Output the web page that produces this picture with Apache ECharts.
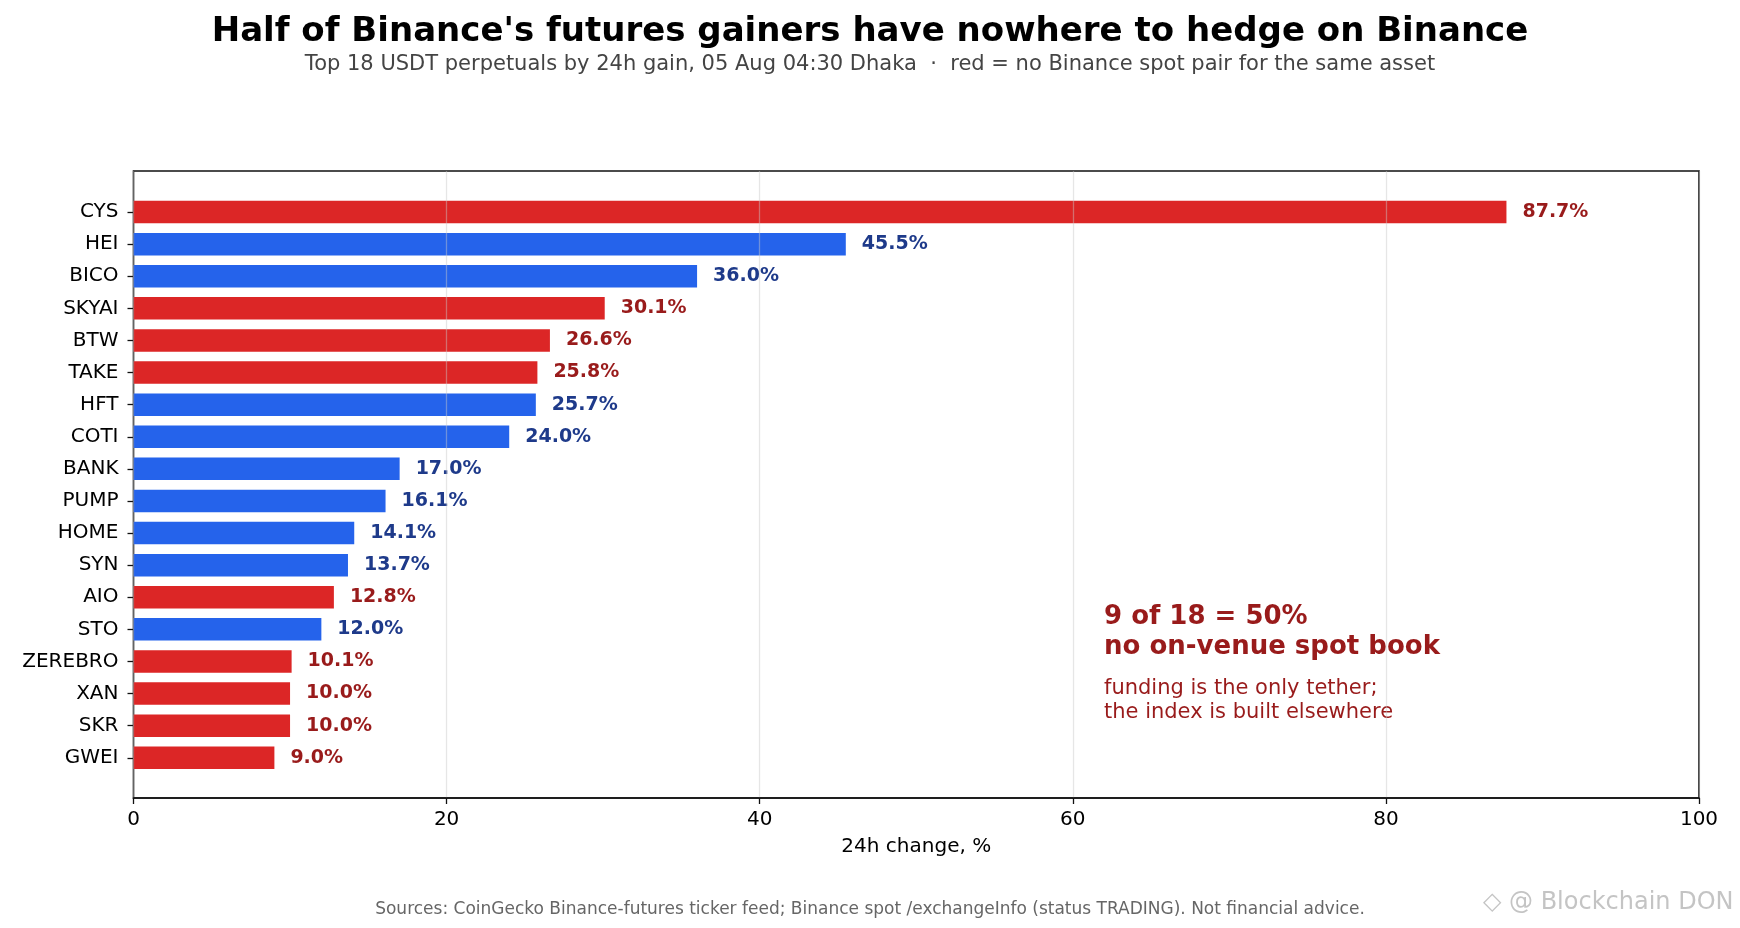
<!DOCTYPE html>
<html>
<head>
<meta charset="utf-8">
<title>Binance futures gainers</title>
<script src="https://cdn.jsdelivr.net/npm/echarts@6/dist/echarts.min.js"></script>
<style>
  html, body { margin: 0; padding: 0; background: #ffffff; }
  #main { width: 1740px; height: 928px; }
</style>
</head>
<body>
<div id="main"></div>
<script>
// top 18 USDT perpetuals
var symbols = ["CYS", "HEI", "BICO", "SKYAI", "BTW", "TAKE", "HFT", "COTI", "BANK",
               "PUMP", "HOME", "SYN", "AIO", "STO", "ZEREBRO", "XAN", "SKR", "GWEI"];
var gains = [87.7, 45.5, 36.0, 30.1, 26.6, 25.8, 25.7, 24.0, 17.0,
             16.1, 14.1, 13.7, 12.8, 12.0, 10.1, 10.0, 10.0, 9.0];
// true = Binance also lists a spot pair
var hasSpot = [false, true, true, false, false, false, true, true, true,
               true, true, true, false, true, false, false, false, false];
var xTicks = [0, 20, 40, 60, 80, 100];

var font = "'DejaVu Sans', 'Noto Sans', sans-serif";
var RED = "#dc2626", BLUE = "#2563eb";
var RED_TXT = "#991b1b", BLUE_TXT = "#1e3a8a";

var barData = gains.map(function (v, i) {
  return {
    value: v,
    itemStyle: { color: hasSpot[i] ? BLUE : RED },
    label: { color: hasSpot[i] ? BLUE_TXT : RED_TXT }
  };
});

var noSpot = hasSpot.filter(function (s) { return !s; }).length;
var pct = Math.round(noSpot / symbols.length * 100);

var chart = echarts.init(document.getElementById("main"));
chart.setOption({
  backgroundColor: "#ffffff",
  animation: false,
  title: [
    {
      text: "Half of Binance's futures gainers have nowhere to hedge on Binance",
      left: "center", top: 10,
      textStyle: { fontFamily: font, fontSize: 34, fontWeight: "bold", color: "#000" }
    },
    {
      text: "Top 18 USDT perpetuals by 24h gain, 05 Aug 04:30 Dhaka  \u00b7  red = no Binance spot pair for the same asset",
      left: "center", top: 49,
      textStyle: { fontFamily: font, fontSize: 21, fontWeight: "normal", color: "#444" }
    },
    {
      text: "Sources: CoinGecko Binance-futures ticker feed; Binance spot /exchangeInfo (status TRADING). Not financial advice.",
      left: "center", top: 896,
      textStyle: { fontFamily: font, fontSize: 17, fontWeight: "normal", color: "#666" }
    }
  ],
  grid: [
    { left: 133.5, right: 41, top: 171, bottom: 130, show: true,
      borderColor: "#111", borderWidth: 1.6, backgroundColor: "transparent" },
    { left: 133.5, right: 41, top: 196, bottom: 154.2 }
  ],
  xAxis: [
    {
      gridIndex: 0, type: "value", min: xTicks[0], max: xTicks[xTicks.length - 1], interval: 20,
      z: 5,
      name: "24h change, %", nameLocation: "middle", nameGap: 39,
      nameTextStyle: { fontFamily: font, fontSize: 20, color: "#000" },
      axisLine: { show: true, lineStyle: { color: "#111", width: 1.6 } },
      axisTick: { show: true, length: 6, lineStyle: { color: "#111", width: 1.3 } },
      axisLabel: { margin: 12, fontFamily: font, fontSize: 20, color: "#000" },
      splitLine: { show: true, lineStyle: { color: "rgba(200,200,200,0.45)", width: 1.3 } }
    },
    { gridIndex: 1, type: "value", min: 0, max: 100, show: false }
  ],
  yAxis: [
    { gridIndex: 0, type: "value", min: 0, max: 1, show: false },
    {
      gridIndex: 1, type: "category", data: symbols, inverse: true,
      axisLine: { show: false },
      axisTick: { show: true, alignWithLabel: true, length: 6, lineStyle: { color: "#111", width: 1.3 } },
      axisLabel: { margin: 15, fontFamily: font, fontSize: 20, color: "#000" },
      splitLine: { show: false }
    }
  ],
  series: [
    {
      type: "bar", xAxisIndex: 1, yAxisIndex: 1,
      data: barData,
      barCategoryGap: "30%",
      label: {
        show: true, position: "right", distance: 16,
        fontFamily: font, fontSize: 19, fontWeight: "bold",
        formatter: function (p) { return p.value.toFixed(1) + "%"; }
      }
    }
  ],
  graphic: [
    {
      type: "text", left: 1104, top: 602,
      style: {
        text: noSpot + " of " + symbols.length + " = " + pct + "%\nno on-venue spot book",
        fontFamily: font, fontSize: 26, fontWeight: "bold", fill: RED_TXT, lineHeight: 30
      }
    },
    {
      type: "text", left: 1104, top: 677,
      style: {
        text: "funding is the only tether;\nthe index is built elsewhere",
        fontFamily: font, fontSize: 21, fill: RED_TXT, lineHeight: 24
      }
    },
    {
      type: "text", right: 6, top: 890,
      style: {
        text: "\u25c7 @ Blockchain DON",
        fontFamily: font, fontSize: 24, fill: "rgba(190,190,190,0.9)",
        stroke: "#fff", lineWidth: 1
      }
    }
  ]
});
</script>
</body>
</html>
